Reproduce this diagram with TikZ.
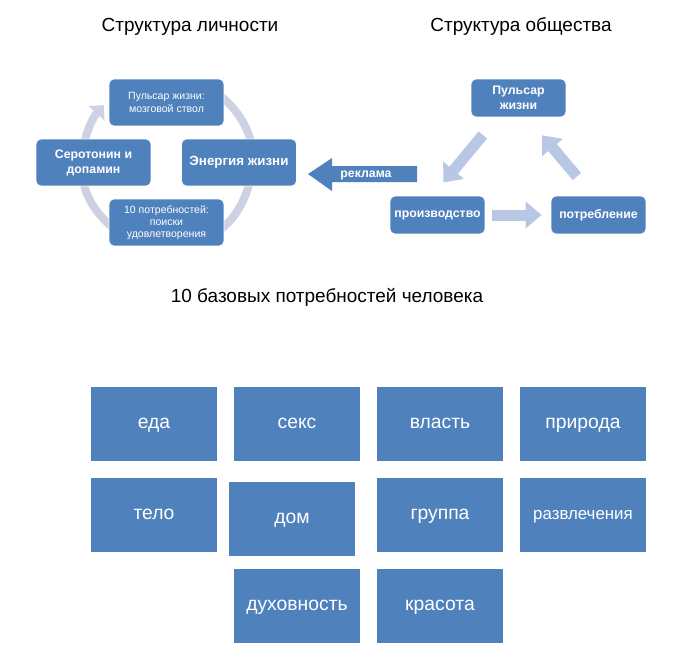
\documentclass[tikz,border=0pt]{standalone}
\usepackage{fontspec}
\setmainfont{Liberation Sans}
\usetikzlibrary{arrows.meta}
\definecolor{boxblue}{RGB}{79,129,189}
\definecolor{ringgray}{RGB}{205,209,226}
\definecolor{flowblue}{RGB}{184,200,228}

\begin{document}
\begin{tikzpicture}[x=0.02cm, y=0.02cm,
  need/.style={fill=boxblue, text=white, minimum width=2.52cm, minimum height=1.48cm, inner sep=0pt, text height=0.75em, text depth=0.2em, font=\fontsize{11}{13}\selectfont},
  cyc/.style={fill=boxblue, draw=white, rounded corners=0.1cm, text=white, minimum width=2.3cm, minimum height=0.94cm, inner sep=1pt, align=center},
  thin/.style={font=\fontsize{6}{7}\selectfont},
  bold/.style={font=\bfseries\fontsize{7}{8.5}\selectfont},
  soc/.style={cyc, bold, minimum width=1.9cm, minimum height=0.76cm},
  ring/.style={ringgray, line width=0.16cm, -{Triangle[width=0.42cm,length=0.22cm]}},
  flow/.style={flowblue, line width=0.22cm, -{Triangle[width=0.52cm,length=0.32cm]}},
  title/.style={font=\fontsize{10.8}{13}\selectfont}]
\useasboundingbox (0,0) rectangle (691,-656);

\node[title] (tpers) at (190,-27) {Структура личности};
\node[title] (tsoc) at (521,-27) {Структура общества};
\node[title] (tneeds) at (327,-297) {10 базовых потребностей человека};

% personality cycle
\coordinate (ring) at (167,-162);
\draw[ring] ([shift={(170:1.7cm)}]ring) arc[start angle=170, end angle=138, radius=1.7cm];
\draw[ring] ([shift={(60:1.7cm)}]ring) arc[start angle=60, end angle=0, radius=1.7cm];
\draw[ring] ([shift={(-5:1.7cm)}]ring) arc[start angle=-5, end angle=-62, radius=1.7cm];
\draw[ring] ([shift={(-118:1.7cm)}]ring) arc[start angle=-118, end angle=-174, radius=1.7cm];

\node[cyc, thin] (pulse) at (166.5,-102.5) {Пульсар жизни:\\мозговой ствол};
\node[cyc, bold] (sero) at (93.5,-162.5) {Серотонин и\\допамин};
\node[cyc, bold, font=\bfseries\fontsize{7.6}{9}\selectfont] (energy) at (239,-162.5) {Энергия жизни};
\node[cyc, thin] (search) at (166.5,-222.5) {10 потребностей:\\поиски\\удовлетворения};

% advertising arrow
\fill[boxblue] (417,-166) -- (332,-166) -- (332,-158) -- (308,-174) -- (332,-191) -- (332,-182) -- (417,-182) -- cycle;
\node[bold, text=white] (ad) at (366,-175) {реклама};

% society triangle
\node[soc] (spulse) at (518.5,-98) {Пульсар\\жизни};
\node[soc] (prod) at (437.5,-215) {производство};
\node[soc] (cons) at (598.5,-215) {потребление};

\draw[flow, shorten <=0.46cm, shorten >=0.34cm] ([xshift=-0.42cm]spulse.south) -- ([xshift=-0.1cm]prod.north);
\draw[flow, shorten <=0.14cm, shorten >=0.18cm] (prod.east) -- (cons.west);
\draw[flow, shorten <=0.5cm, shorten >=0.47cm] ([xshift=-0.11cm]cons.north) -- ([xshift=0.17cm]spulse.south);

% ten needs
\node[need] (food) at (154,-424) {еда};
\node[need] (sex) at (297,-424) {секс};
\node[need] (power) at (440,-424) {власть};
\node[need] (nature) at (583,-424) {природа};
\node[need] (body) at (154,-515) {тело};
\node[need] (home) at (292,-519) {дом};
\node[need] (group) at (440,-515) {группа};
\node[need, font=\fontsize{9.6}{11}\selectfont] (fun) at (583,-515) {развлечения};
\node[need] (spirit) at (297,-606) {духовность};
\node[need] (beauty) at (440,-606) {красота};

\end{tikzpicture}
\end{document}
